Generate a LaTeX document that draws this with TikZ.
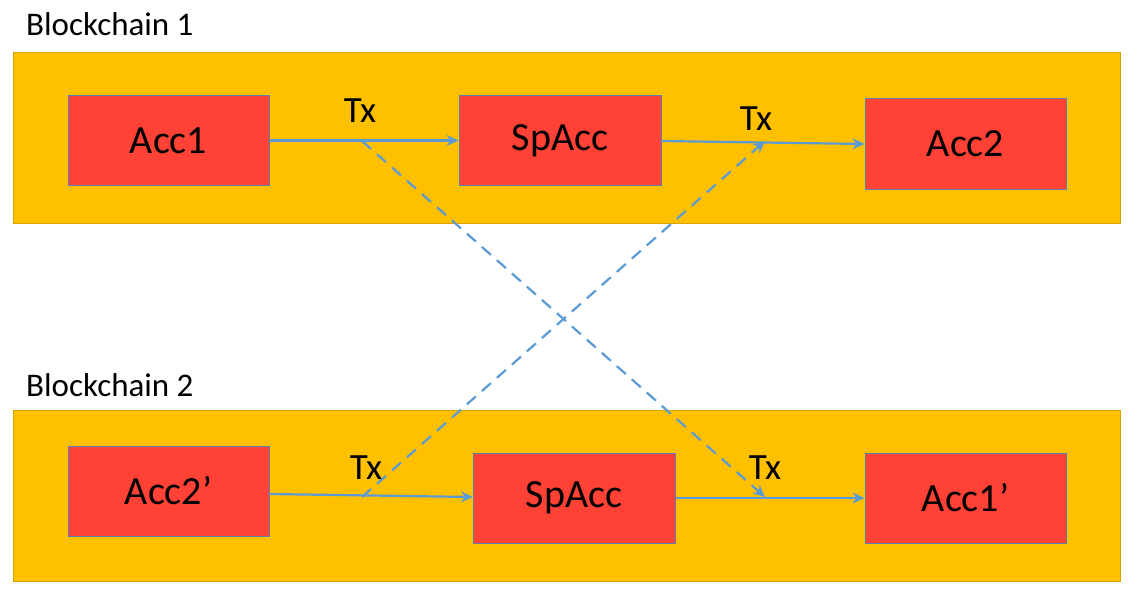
\documentclass[tikz,border=0pt]{standalone}
\usepackage{fontspec}
\setmainfont{Carlito}
\usetikzlibrary{arrows.meta}
\definecolor{band}{HTML}{FFC000}
\definecolor{bandb}{HTML}{D9A300}
\definecolor{acc}{HTML}{FF4136}
\definecolor{accb}{HTML}{5B7FB5}
\definecolor{ln}{HTML}{5B9BD5}
\begin{document}
\begin{tikzpicture}[x=1pt,y=-1pt,
 bandbox/.style={fill=band,draw=bandb,line width=1pt},
 accbox/.style={fill=acc,draw=accb,line width=1pt,font=\fontsize{40}{44}\selectfont},
 conn/.style={draw=ln,line width=2.2pt,-{Stealth[length=12pt,width=11pt]}},
 dconn/.style={conn,dash pattern=on 12pt off 8pt},
 lbl/.style={font=\fontsize{37}{40}\selectfont,inner sep=0pt},
 title/.style={font=\fontsize{33}{38}\selectfont,anchor=west,inner sep=0pt}]
\useasboundingbox (0,0) rectangle (1139,604);
\fill[white] (0,0) rectangle (1139,604);
\node[title] (t1) at (26,24) {Blockchain 1};
\node[title] (t2) at (26,385) {Blockchain 2};
\draw[bandbox] (13,53) rectangle (1120,223);
\draw[bandbox] (13,410) rectangle (1120,581);
\node[accbox,minimum width=201pt,minimum height=89pt] (a1) at (168.5,140.5) {Acc1};
\node[accbox,minimum width=202pt,minimum height=89pt] (s1) at (560,140.5) {SpAcc};
\node[accbox,minimum width=201pt,minimum height=90pt] (a2) at (965.5,144) {Acc2};
\node[accbox,minimum width=201pt,minimum height=90pt] (b2) at (168.5,491) {Acc2’};
\node[accbox,minimum width=202pt,minimum height=90pt] (s2) at (574,498) {SpAcc};
\node[accbox,minimum width=201pt,minimum height=90pt] (b1) at (965.5,498) {Acc1’};
\draw[conn] (a1.east) -- (s1.west);
\draw[conn] (661,141) -- (a2.west);
\draw[conn] (269,494) -- (473,497);
\draw[conn] (s2.east) -- (b1.west);
\coordinate (d1s) at (362,141);
\coordinate (d1e) at (765,497);
\coordinate (d2s) at (362,497);
\coordinate (d2e) at (765,141);
\draw[dconn] (d1s) -- (d1e);
\draw[dconn] (d2s) -- (d2e);
\node[lbl] (x1) at (360,111) {Tx};
\node[lbl] (x2) at (756,119) {Tx};
\node[lbl] (x3) at (366,468) {Tx};
\node[lbl] (x4) at (765,468) {Tx};
\end{tikzpicture}
\end{document}
